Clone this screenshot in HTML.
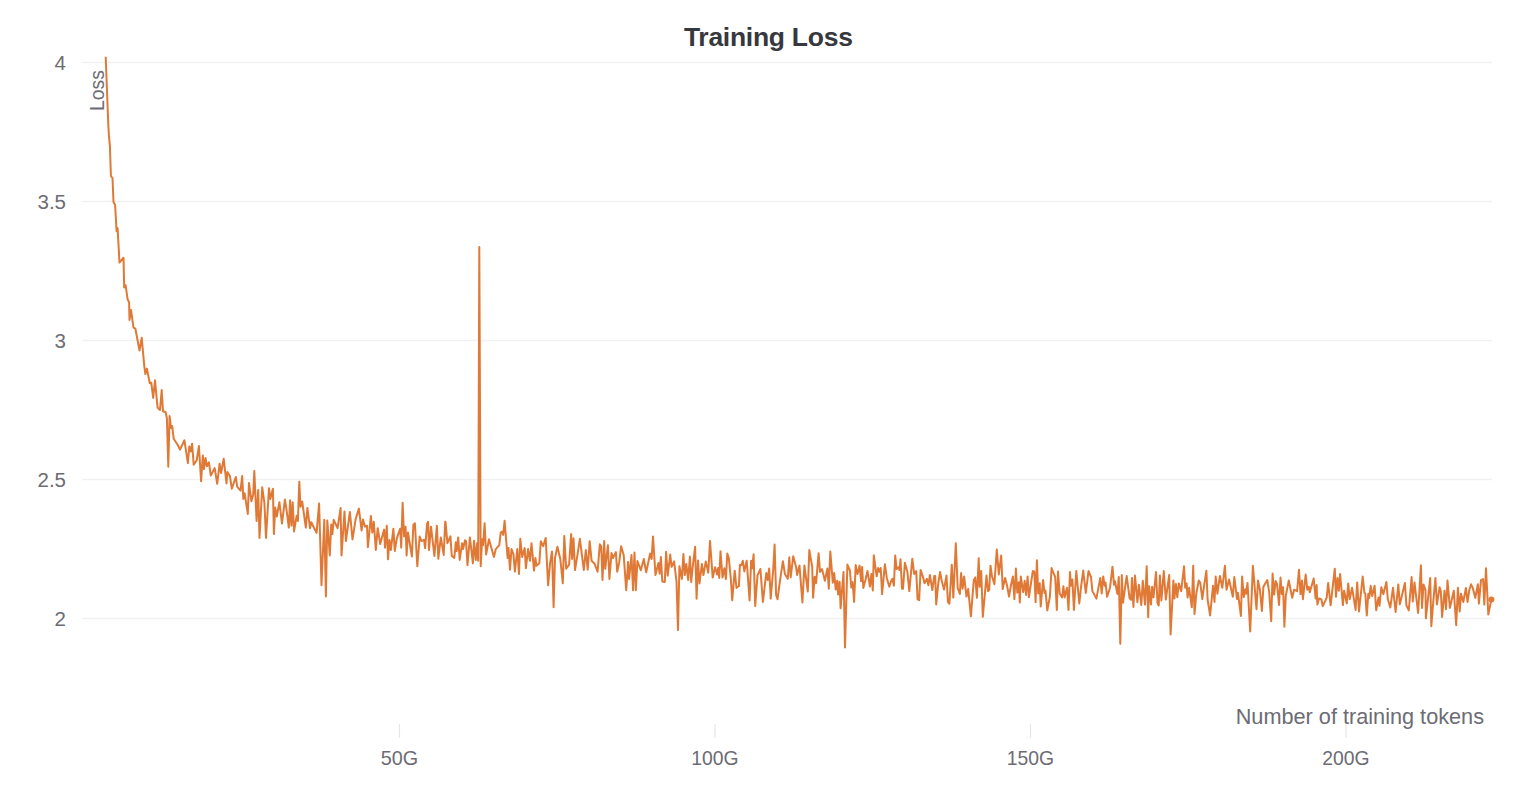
<!DOCTYPE html>
<html><head><meta charset="utf-8"><style>
html,body{margin:0;padding:0;background:#fff;width:1536px;height:788px;overflow:hidden}
svg{display:block}
text{font-family:"Liberation Sans",sans-serif}
</style></head><body>
<svg width="1536" height="788" viewBox="0 0 1536 788">
<g stroke="#f1f1f2" stroke-width="1.6"><line x1="82" y1="62.5" x2="1492" y2="62.5" /><line x1="82" y1="201.5" x2="1492" y2="201.5" /><line x1="82" y1="340.5" x2="1492" y2="340.5" /><line x1="82" y1="479.5" x2="1492" y2="479.5" /><line x1="82" y1="618.5" x2="1492" y2="618.5" /></g>
<g stroke="#e6e6e8" stroke-width="1.2"><line x1="399.5" y1="724" x2="399.5" y2="738" /><line x1="715.0" y1="724" x2="715.0" y2="738" /><line x1="1030.5" y1="724" x2="1030.5" y2="738" /><line x1="1346.0" y1="724" x2="1346.0" y2="738" /></g>
<g fill="#6c6c74" font-size="20.5"><text x="66" y="70.0" text-anchor="end">4</text><text x="66" y="209.0" text-anchor="end">3.5</text><text x="66" y="348.0" text-anchor="end">3</text><text x="66" y="487.0" text-anchor="end">2.5</text><text x="66" y="626.0" text-anchor="end">2</text><text x="399.5" y="765.2" text-anchor="middle" font-size="21" textLength="37.5" lengthAdjust="spacingAndGlyphs">50G</text><text x="715.0" y="765.2" text-anchor="middle" font-size="21" textLength="47.3" lengthAdjust="spacingAndGlyphs">100G</text><text x="1030.5" y="765.2" text-anchor="middle" font-size="21" textLength="47.3" lengthAdjust="spacingAndGlyphs">150G</text><text x="1346.0" y="765.2" text-anchor="middle" font-size="21" textLength="47.3" lengthAdjust="spacingAndGlyphs">200G</text></g>
<text x="1484" y="723.5" text-anchor="end" fill="#6c6c74" font-size="21.7">Number of training tokens</text>
<text transform="translate(104 111) rotate(-90)" fill="#6c6c74" font-size="20.5" textLength="41" lengthAdjust="spacingAndGlyphs">Loss</text>
<text x="768.4" y="45.8" text-anchor="middle" fill="#37383d" font-size="26.5" font-weight="bold" textLength="169" lengthAdjust="spacing">Training Loss</text>
<path d="M105.7 56.8 L108.3 125.0 L108.9 135.4 L109.9 145.8 L110.9 176.0 L112.5 178.0 L113.5 202.0 L115.1 204.9 L116.6 231.3 L117.6 228.3 L119.5 262.6 L123.5 257.7 L124.2 287.6 L125.6 285.2 L127.6 299.3 L129.1 302.3 L129.5 319.9 L131.0 310.0 L133.5 327.7 L135.4 328.7 L139.5 350.5 L141.7 337.8 L144.4 367.1 L145.4 374.0 L146.9 368.6 L149.8 383.3 L151.3 382.8 L153.2 398.0 L155.0 380.3 L157.6 407.6 L160.0 410.0 L161.7 390.0 L163.0 411.5 L165.6 412.0 L166.9 418.3 L168.3 466.7 L169.6 416.0 L171.0 428.0 L172.2 426.0 L173.7 438.8 L177.6 444.7 L180.0 449.6 L184.4 440.3 L187.9 463.2 L189.3 446.6 L190.8 451.5 L192.1 443.7 L193.7 464.7 L196.7 460.3 L198.9 446.1 L201.1 481.3 L202.8 455.4 L204.0 469.1 L205.5 457.9 L206.9 466.2 L208.9 462.3 L210.8 475.5 L214.7 468.1 L217.2 483.8 L219.6 463.7 L221.1 473.0 L223.7 458.8 L226.5 483.3 L227.4 472.0 L229.9 476.0 L231.8 488.7 L235.8 477.0 L237.2 486.7 L240.5 490.7 L242.2 476.0 L243.3 498.9 L244.6 493.2 L247.8 513.9 L249.0 482.9 L251.4 501.2 L253.2 494.6 L254.3 471.1 L256.6 521.0 L258.2 490.1 L259.5 538.0 L262.2 487.2 L264.4 502.8 L266.0 538.0 L269.0 488.2 L270.3 498.9 L272.9 488.7 L273.9 534.1 L275.2 507.4 L276.8 516.5 L279.4 502.2 L282.0 523.6 L284.9 499.6 L286.2 507.4 L288.8 527.6 L290.1 500.2 L291.4 525.6 L292.7 502.2 L294.0 531.5 L296.6 515.8 L297.9 521.0 L299.3 481.8 L300.5 506.7 L302.2 501.5 L305.8 527.6 L307.4 508.0 L310.0 528.2 L311.3 522.3 L314.2 528.2 L316.6 532.8 L319.1 503.6 L321.5 585.2 L324.3 519.7 L325.9 596.5 L327.3 520.6 L329.8 555.4 L331.2 524.5 L332.4 534.1 L333.7 519.8 L337.6 528.2 L340.6 508.1 L341.5 555.4 L344.5 511.5 L345.9 541.0 L349.9 512.0 L352.5 539.4 L355.7 518.9 L358.9 508.6 L361.6 530.6 L363.0 519.4 L365.0 526.7 L367.0 525.7 L367.9 547.1 L370.9 515.9 L372.3 532.6 L373.8 521.8 L375.8 550.0 L377.7 528.2 L380.2 544.0 L384.1 529.6 L385.0 547.6 L386.8 525.7 L388.0 559.3 L389.5 540.0 L390.9 550.0 L393.4 528.7 L394.8 551.0 L396.8 538.4 L400.2 528.7 L401.2 547.6 L402.6 502.7 L404.1 536.5 L405.6 526.7 L406.6 555.4 L408.0 532.6 L410.0 545.0 L411.9 556.4 L413.4 524.7 L414.9 523.3 L417.3 566.2 L419.7 536.5 L421.5 541.0 L424.1 539.9 L425.1 548.1 L427.1 523.8 L428.1 521.8 L429.0 550.0 L431.0 526.7 L434.4 555.9 L436.9 525.7 L438.3 558.8 L440.8 537.4 L443.7 554.9 L445.2 521.8 L445.5 521.7 L447.4 543.2 L447.6 542.7 L450.4 536.4 L451.8 555.9 L454.3 557.9 L455.8 542.3 L456.7 551.1 L458.2 537.4 L459.7 559.9 L462.1 543.2 L463.1 549.1 L465.0 540.3 L466.0 541.3 L467.5 565.2 L469.9 537.4 L472.9 563.3 L474.0 540.8 L475.8 559.9 L477.1 543.2 L478.2 560.8 L479.3 247.0 L480.7 566.2 L482.1 539.3 L483.1 545.2 L484.6 523.2 L486.1 554.5 L489.0 539.3 L493.9 556.9 L495.8 549.1 L499.3 545.2 L500.7 532.5 L502.2 531.5 L503.2 534.9 L504.6 520.8 L507.6 557.9 L508.5 548.1 L510.0 569.6 L511.5 549.1 L513.4 554.0 L514.9 571.6 L517.3 549.1 L519.0 574.0 L520.3 538.8 L522.2 556.9 L524.7 548.1 L525.9 568.2 L528.1 549.1 L530.0 560.8 L531.5 543.2 L534.0 570.6 L535.4 557.9 L536.4 565.7 L539.3 563.3 L540.8 541.3 L543.2 546.2 L545.7 537.9 L548.1 585.3 L550.1 562.8 L552.0 551.5 L553.6 607.2 L555.0 557.9 L557.4 546.7 L560.3 558.9 L562.8 583.3 L564.3 535.9 L566.2 568.7 L569.1 564.7 L571.1 534.0 L572.1 558.9 L573.5 538.3 L575.0 570.1 L577.0 557.9 L579.9 538.8 L583.8 570.1 L585.8 550.1 L587.7 569.6 L589.7 541.3 L591.6 560.8 L594.6 563.8 L597.6 571.7 L599.8 544.3 L601.2 546.3 L602.5 580.0 L604.2 540.9 L605.2 568.8 L607.9 545.3 L609.4 579.0 L611.5 553.1 L613.0 558.0 L615.9 552.1 L617.2 571.7 L619.3 561.9 L621.1 546.3 L623.7 555.1 L626.2 590.3 L628.1 561.9 L629.1 579.0 L631.5 555.1 L633.0 590.3 L634.5 552.6 L635.8 590.3 L637.4 561.0 L640.8 570.2 L643.8 559.0 L646.2 572.2 L650.1 553.6 L651.6 559.0 L653.0 536.5 L655.5 575.1 L658.4 562.9 L659.6 573.7 L660.9 557.0 L662.3 581.5 L664.8 582.0 L666.1 551.7 L667.7 575.6 L670.2 554.6 L671.6 566.8 L674.1 561.4 L676.5 581.5 L678.0 630.1 L679.4 566.3 L681.9 579.0 L683.4 554.1 L684.8 575.1 L686.3 563.9 L688.2 580.0 L689.9 556.5 L691.2 582.0 L692.6 567.8 L695.1 546.8 L696.6 598.8 L698.0 560.5 L699.5 583.4 L701.9 563.9 L703.4 575.1 L705.8 561.4 L708.3 572.7 L710.0 540.9 L712.7 577.6 L715.1 567.3 L717.1 574.6 L718.2 568.0 L719.2 578.0 L720.5 551.2 L722.5 577.6 L724.4 568.3 L725.9 579.0 L727.3 553.6 L728.8 558.0 L730.8 578.5 L732.2 600.3 L734.7 570.7 L736.5 588.0 L736.6 587.3 L738.9 586.1 L739.9 565.1 L741.4 565.1 L742.8 560.7 L744.3 571.4 L746.7 560.7 L749.6 600.5 L751.1 560.7 L752.1 568.5 L753.6 554.3 L755.2 605.9 L757.5 575.3 L760.4 569.0 L762.9 602.0 L766.3 572.9 L767.7 580.0 L769.2 568.5 L770.7 598.6 L773.1 570.9 L774.6 544.6 L776.1 594.9 L777.5 599.3 L780.0 580.7 L782.9 561.2 L784.9 573.9 L787.8 578.8 L789.3 557.3 L790.7 577.3 L793.2 556.3 L796.1 567.0 L797.1 574.9 L799.5 565.6 L802.4 602.5 L804.4 565.6 L807.8 591.5 L809.3 549.9 L812.2 567.0 L813.1 597.6 L814.7 576.8 L816.1 583.2 L818.6 553.3 L820.0 571.9 L822.0 569.0 L824.9 580.7 L827.4 568.5 L828.8 588.8 L830.3 551.4 L832.8 582.7 L834.2 572.9 L835.7 589.5 L837.2 580.7 L838.1 594.4 L839.6 581.7 L840.6 608.3 L843.5 571.9 L845.0 647.5 L847.4 564.6 L849.9 570.5 L851.3 587.6 L852.6 582.0 L854.1 602.0 L855.7 565.1 L857.5 574.0 L859.6 565.6 L861.1 581.2 L862.1 567.0 L863.3 588.0 L865.5 579.7 L867.5 570.9 L869.9 586.6 L871.4 573.9 L872.8 590.5 L873.8 555.3 L876.7 576.3 L878.2 568.0 L879.7 571.9 L880.7 568.0 L882.1 594.1 L884.9 564.2 L886.8 577.9 L889.3 586.7 L891.2 580.8 L892.4 578.8 L893.9 585.7 L895.2 555.4 L896.6 569.1 L898.6 567.1 L899.5 570.1 L900.5 559.3 L902.0 588.7 L903.0 588.7 L904.9 562.7 L907.4 572.0 L909.3 591.1 L912.3 558.8 L914.2 574.0 L916.2 571.1 L917.6 599.4 L919.1 600.2 L920.6 570.1 L923.0 576.9 L924.5 583.3 L926.9 578.9 L928.4 585.2 L929.9 575.0 L932.3 590.1 L934.3 575.9 L935.2 575.9 L936.2 604.5 L938.2 583.8 L940.1 572.0 L941.6 580.3 L944.0 589.6 L946.5 575.5 L947.9 601.8 L949.4 603.8 L951.8 564.7 L953.3 597.6 L955.8 543.2 L957.7 588.2 L959.9 594.0 L961.1 573.0 L962.6 588.7 L964.1 576.4 L966.5 596.6 L968.2 589.0 L970.9 616.3 L973.8 579.9 L975.3 577.4 L976.9 597.8 L978.7 558.3 L979.7 586.7 L981.2 571.1 L982.8 616.8 L986.5 575.5 L988.0 591.1 L989.2 590.0 L990.5 565.7 L991.9 575.9 L994.4 584.3 L996.8 549.6 L998.8 574.5 L1001.2 555.4 L1002.7 589.1 L1005.1 577.9 L1007.1 585.7 L1009.0 596.6 L1011.0 585.0 L1012.9 576.4 L1014.4 599.3 L1015.9 568.6 L1017.3 592.6 L1018.8 582.3 L1019.8 602.5 L1020.8 576.4 L1023.2 592.1 L1024.7 580.8 L1026.1 595.0 L1027.6 576.4 L1028.9 597.3 L1032.8 571.1 L1034.3 571.5 L1035.6 602.2 L1036.9 560.3 L1038.2 593.5 L1039.7 583.3 L1040.7 606.5 L1043.1 579.9 L1044.5 593.0 L1045.5 590.6 L1047.3 610.4 L1049.9 596.5 L1051.6 568.1 L1054.3 575.0 L1055.2 577.0 L1056.8 609.9 L1058.0 571.5 L1059.7 593.5 L1062.1 597.4 L1063.4 586.2 L1064.6 597.4 L1067.0 587.7 L1068.5 609.9 L1070.0 572.0 L1071.0 585.7 L1072.4 579.4 L1073.9 609.9 L1076.3 571.1 L1079.3 603.5 L1081.2 585.7 L1083.2 570.6 L1085.8 593.0 L1088.5 571.1 L1091.0 577.0 L1092.4 591.1 L1096.4 598.6 L1100.3 577.9 L1101.7 593.5 L1103.2 576.4 L1104.7 585.7 L1105.6 582.8 L1107.1 596.8 L1110.0 587.7 L1112.5 566.7 L1114.0 584.7 L1114.9 581.3 L1117.4 594.0 L1118.8 576.9 L1120.3 643.7 L1121.8 575.0 L1123.0 602.7 L1126.7 575.9 L1129.6 598.4 L1131.1 599.9 L1132.0 577.9 L1133.4 607.0 L1135.0 575.5 L1137.4 602.2 L1138.9 584.7 L1141.3 605.0 L1142.8 580.8 L1145.0 604.6 L1146.7 566.2 L1148.2 617.3 L1149.1 586.2 L1151.0 604.4 L1152.1 586.7 L1153.5 597.4 L1156.0 572.0 L1157.5 603.3 L1158.7 605.4 L1159.9 575.5 L1161.4 600.4 L1163.8 571.1 L1165.8 599.6 L1169.2 575.0 L1170.6 634.4 L1173.4 580.5 L1174.4 598.5 L1175.9 583.9 L1177.3 597.2 L1178.8 583.4 L1181.2 591.2 L1184.0 566.3 L1185.2 587.8 L1186.6 583.4 L1187.6 597.5 L1189.1 587.8 L1191.8 607.2 L1193.2 565.8 L1194.5 614.0 L1196.4 592.7 L1198.8 580.5 L1200.3 582.9 L1202.3 599.2 L1204.2 584.9 L1206.4 570.7 L1207.6 599.5 L1210.1 615.4 L1213.0 585.8 L1214.5 601.9 L1215.7 576.5 L1217.4 593.7 L1219.9 576.0 L1222.3 587.8 L1224.9 565.8 L1226.5 589.7 L1229.1 579.5 L1232.8 596.7 L1234.3 577.0 L1237.0 599.0 L1237.9 592.7 L1240.9 615.9 L1242.1 576.5 L1243.8 597.1 L1245.3 589.3 L1246.2 593.7 L1247.5 582.9 L1250.2 631.5 L1252.9 565.8 L1256.5 609.2 L1258.0 580.5 L1259.9 589.7 L1261.9 611.0 L1263.4 586.8 L1267.3 580.0 L1269.2 592.2 L1271.2 621.3 L1272.6 573.6 L1274.1 594.6 L1275.6 581.0 L1277.0 583.9 L1279.0 605.0 L1280.5 577.5 L1281.9 594.1 L1283.1 587.3 L1284.4 626.7 L1285.8 595.6 L1288.8 580.5 L1292.2 597.7 L1294.1 589.7 L1297.1 591.2 L1299.0 569.7 L1300.5 594.1 L1302.0 580.5 L1302.9 599.2 L1305.7 574.6 L1307.3 589.7 L1308.8 586.8 L1309.8 592.2 L1313.7 578.5 L1315.6 598.5 L1316.6 584.9 L1317.4 604.6 L1318.9 598.5 L1321.4 599.5 L1322.8 606.2 L1326.7 597.6 L1328.2 582.9 L1330.6 605.3 L1334.8 568.7 L1336.0 596.7 L1337.5 578.0 L1338.8 590.7 L1340.1 574.1 L1342.9 605.1 L1344.1 590.7 L1346.8 603.5 L1348.2 583.4 L1349.7 599.2 L1352.1 587.8 L1355.6 609.9 L1357.2 582.4 L1359.0 611.4 L1362.7 576.5 L1364.4 592.7 L1365.3 593.5 L1366.8 615.4 L1368.3 593.7 L1369.2 598.0 L1370.7 585.8 L1372.2 596.1 L1374.6 585.8 L1376.2 610.2 L1378.5 597.6 L1379.5 605.8 L1381.3 587.3 L1383.4 594.1 L1386.4 581.9 L1387.8 599.0 L1390.3 607.5 L1393.0 587.8 L1395.6 612.0 L1398.3 584.4 L1399.8 604.3 L1401.0 599.5 L1404.9 582.9 L1406.4 605.4 L1408.8 610.4 L1411.6 577.0 L1412.8 601.4 L1414.5 582.4 L1418.1 613.0 L1420.9 565.3 L1422.0 607.9 L1423.5 584.4 L1425.5 590.2 L1425.9 618.3 L1430.2 578.0 L1431.3 626.2 L1433.3 601.5 L1435.4 578.0 L1436.9 604.5 L1439.6 587.3 L1440.8 591.0 L1442.1 616.9 L1444.5 590.7 L1446.0 609.2 L1447.5 580.5 L1449.9 607.9 L1453.8 590.7 L1456.2 625.2 L1457.9 587.8 L1459.7 611.4 L1461.0 593.7 L1463.3 602.0 L1465.9 588.0 L1467.5 602.0 L1469.3 590.0 L1471.1 584.3 L1472.8 588.0 L1475.3 597.9 L1477.9 584.3 L1478.9 603.6 L1481.0 580.2 L1483.1 579.1 L1484.3 604.6 L1486.0 568.2 L1488.3 614.5 L1491.4 599.4" fill="none" stroke="#e07936" stroke-width="2.0" stroke-linejoin="round"/>
<circle cx="1491.4" cy="599.4" r="3" fill="#e07936"/>
</svg>
</body></html>
